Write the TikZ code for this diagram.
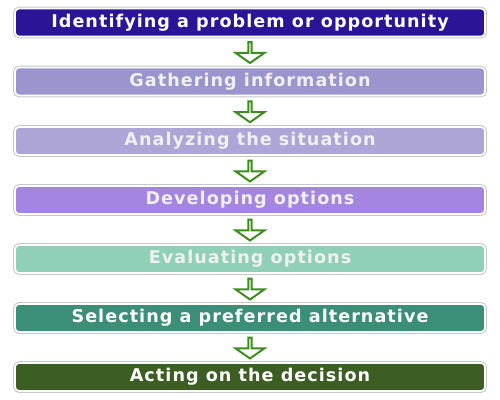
\documentclass[tikz,border=0pt]{standalone}
\usepackage{fontspec}
\setmainfont{DejaVu Sans}[LetterSpace=6]
\usetikzlibrary{shapes.arrows,calc}

\definecolor{stepone}{HTML}{2B1596}
\definecolor{steptwo}{HTML}{9C94CC}
\definecolor{stepthree}{HTML}{ADA5D6}
\definecolor{stepfour}{HTML}{A585E2}
\definecolor{stepfive}{HTML}{90D0B9}
\definecolor{stepsix}{HTML}{3B8E78}
\definecolor{stepseven}{HTML}{3D5E22}
\definecolor{arrowgreen}{HTML}{3C8C1E}

\tikzset{
	stepbox/.style={rectangle, rounded corners=3pt, minimum width=11.75cm, minimum height=0.7cm,
		inner sep=0pt, draw=white, line width=1.2pt,
		preaction={draw=black!22, line width=2.6pt},
		font=\fontsize{12.5}{14}\selectfont\bfseries, text=white},
	downarrow/.style={single arrow, shape border rotate=270, draw=arrowgreen, fill=white,
		line width=1.4pt, inner sep=0pt, minimum height=0.52cm, minimum width=0.72cm,
		single arrow head extend=0.19cm, single arrow tip angle=110}
}

\begin{document}
\begin{tikzpicture}[x=0.025cm,y=-0.025cm]
	\useasboundingbox (0,0) rectangle (500,400);

	\node[stepbox, fill=stepone] (s1) at (250,22.5) {Identifying a problem or opportunity};
	\node[stepbox, fill=steptwo, text=white!94!black] (s2) at (250,81.5) {Gathering information};
	\node[stepbox, fill=stepthree, text=white!94!black] (s3) at (250,141) {Analyzing the situation};
	\node[stepbox, fill=stepfour, text=white!94!black] (s4) at (250,200) {Developing options};
	\node[stepbox, fill=stepfive, text=white!94!black] (s5) at (250,259) {Evaluating options};
	\node[stepbox, fill=stepsix] (s6) at (250,318) {Selecting a preferred alternative};
	\node[stepbox, fill=stepseven] (s7) at (250,377) {Acting on the decision};

	\node[downarrow] (a1) at ($(s1.south)!0.5!(s2.north)$) {};
	\node[downarrow] (a2) at ($(s2.south)!0.5!(s3.north)$) {};
	\node[downarrow] (a3) at ($(s3.south)!0.5!(s4.north)$) {};
	\node[downarrow] (a4) at ($(s4.south)!0.5!(s5.north)$) {};
	\node[downarrow] (a5) at ($(s5.south)!0.5!(s6.north)$) {};
	\node[downarrow] (a6) at ($(s6.south)!0.5!(s7.north)$) {};
\end{tikzpicture}
\end{document}
